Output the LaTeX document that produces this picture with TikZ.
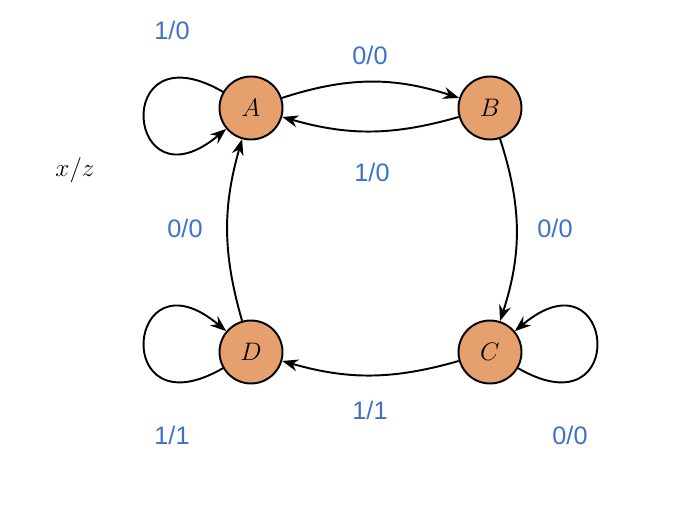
\documentclass[tikz,border=0pt]{standalone}
\usepackage{fontspec}
\newfontfamily\lab{Liberation Sans}
\usetikzlibrary{arrows.meta}
\definecolor{stfill}{RGB}{230,160,110}
\definecolor{lblue}{RGB}{60,115,200}
\begin{document}
\begin{tikzpicture}[x=0.02cm,y=-0.02cm,
  st/.style={circle,draw,line width=1.1pt,fill=stfill,minimum size=1.26cm,inner sep=0pt,font=\Large},
  tr/.style={line width=1.1pt,-{Stealth[length=3.2mm,width=2.4mm]}},
  lb/.style={text=lblue,font=\lab\Large}]
\useasboundingbox (0,0) rectangle (673,531);
\node[st] (A) at (251,108) {$A$};
\node[st] (B) at (490,108) {$B$};
\node[st] (C) at (490,352) {$C$};
\node[st] (D) at (251,352) {$D$};
\draw[tr] (A) to[bend left=18] (B);
\draw[tr] (B) to[bend left=16] (A);
\draw[tr] (B) to[bend left=18] (C);
\draw[tr] (C) to[bend left=16] (D);
\draw[tr] (D) to[bend left=16] (A);
\draw[tr] (A) to[out=150,in=220,looseness=9] (A);
\draw[tr] (D) to[out=210,in=140,looseness=9] (D);
\draw[tr] (C) to[out=-30,in=40,looseness=9] (C);
\node[lb] (lAB) at (370,55) {0/0};
\node[lb] (lBA) at (372,172) {1/0};
\node[lb] (lBC) at (555,228) {0/0};
\node[lb] (lCD) at (370,410) {1/1};
\node[lb] (lDA) at (185,228) {0/0};
\node[lb] (lAA) at (172,30) {1/0};
\node[lb] (lDD) at (172,435) {1/1};
\node[lb] (lCC) at (570,435) {0/0};
\node[font=\Large] (xz) at (75,170) {$x/z$};
\end{tikzpicture}
\end{document}
